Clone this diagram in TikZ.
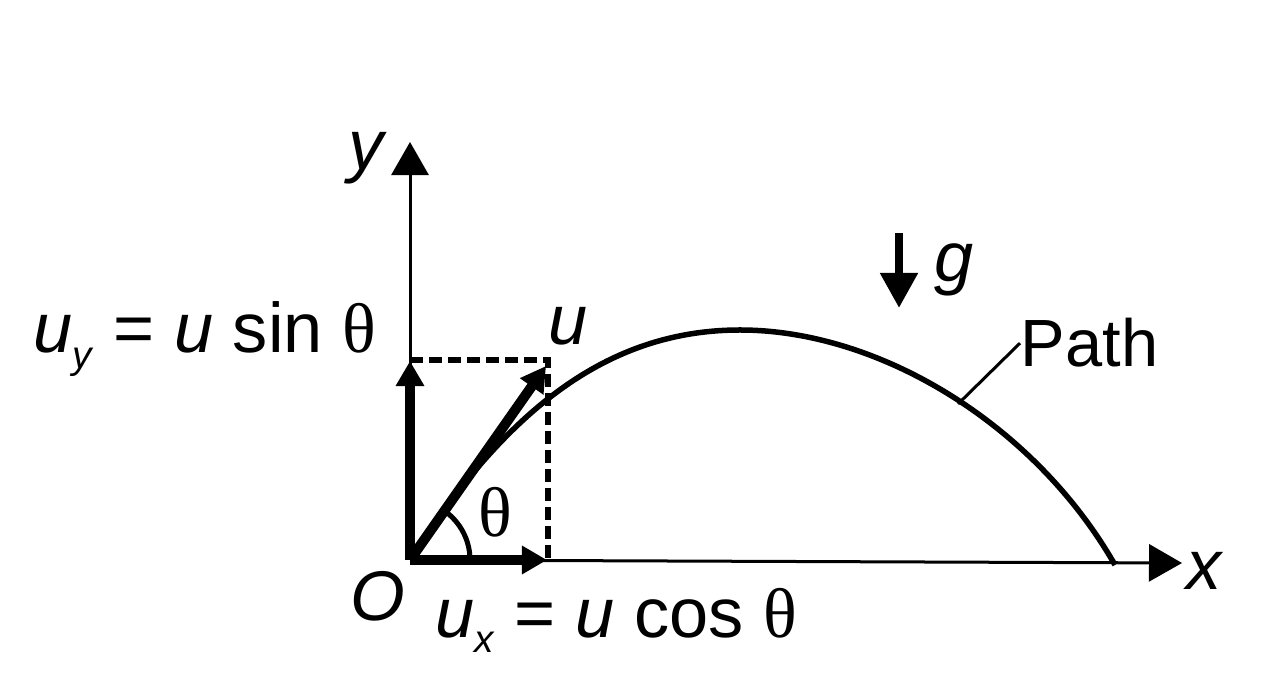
\documentclass[tikz,border=0pt]{standalone}
\usepackage{fontspec}
\setmainfont{Liberation Sans}
\newfontfamily\thetafont{Liberation Serif}
\usetikzlibrary{arrows.meta, positioning}
\newcommand{\thet}{{\thetafont θ}}
\newcommand{\lowsub}[1]{\raisebox{-4.5pt}{\fontsize{11}{11}\selectfont\textit{#1}}}

\begin{document}
\begin{tikzpicture}[x=0.01cm, y=-0.01cm, font=\fontsize{20}{24}\selectfont]
    \tikzstyle{axis}=[line width=0.03cm, -{Triangle[length=0.33cm,width=0.37cm]}]
    \tikzstyle{vec}=[line width=0.1cm, -{Triangle[length=0.25cm,width=0.27cm]}]
    \tikzstyle{guide}=[line width=0.065cm, dash pattern=on 0.13cm off 0.06cm]
    \tikzstyle{trajectory}=[line width=0.055cm]
    \tikzstyle{lbl}=[inner sep=0pt, anchor=base west]

    \useasboundingbox (0,0) rectangle (1280,686);

    % Points of the picture
    \coordinate (O) at (410,560);
    \coordinate (yend) at (410,142);
    \coordinate (xend) at (1182,563);
    \coordinate (uy) at (410,361);
    \coordinate (ux) at (547,560);
    \coordinate (u) at (546,366);
    \coordinate (corner-h) at (410,360);
    \coordinate (corner) at (548,360);
    \coordinate (corner-v) at (548,560);
    \coordinate (top) at (740,330);
    \coordinate (land) at (1115,565);
    \coordinate (lead) at (958,404);
    \coordinate (gtop) at (899,233);
    \coordinate (gtip) at (899,308);

    % Draw the axes
    \draw[axis] (O) -- (yend);
    \draw[axis] (O) -- (xend);

    % Draw the components of the velocity
    \draw[guide] (corner-h) -- (corner) -- (corner-v);
    \draw[vec] (O) -- (uy);
    \draw[vec] (O) -- (ux);
    \draw[vec] (O) -- (u);
    \draw[line width=0.05cm] (O) ++(60,0) arc[start angle=0, end angle=-55, radius=60];

    % Draw the path
    \draw[trajectory] (O) .. controls (500,420) and (600,330) .. (top)
        .. controls (880,330) and (1035,425) .. (land);

    % Gravity
    \draw[line width=0.08cm, -{Triangle[length=0.35cm,width=0.36cm]}] (gtop) -- (gtip);

    % Labels
    \node[lbl] (ylbl) at (348,170) {\textit{y}};
    \node[lbl] (xlbl) at (1186,590) {\textit{x}};
    \node[lbl] (Olbl) at (350,620) {\textit{O}};
    \node[lbl] (ulbl) at (548,345) {\textit{u}};
    \node[lbl] (glbl) at (934,282) {\textit{g}};
    \node[lbl] (thlbl) at (478,537) {\thet};
    \node[lbl] (uylbl) at (33,353) {\textit{u}\lowsub{y} = \textit{u} sin \thet};
    \node[lbl] (uxlbl) at (435,637) {\textit{u}\lowsub{x} = \textit{u} cos \thet};
    \node[lbl, font=\fontsize{19}{23}\selectfont] (pathlbl) at (1020,367) {Path};
    \draw[line width=0.03cm] (lead) -- (pathlbl.west);
\end{tikzpicture}
\end{document}
